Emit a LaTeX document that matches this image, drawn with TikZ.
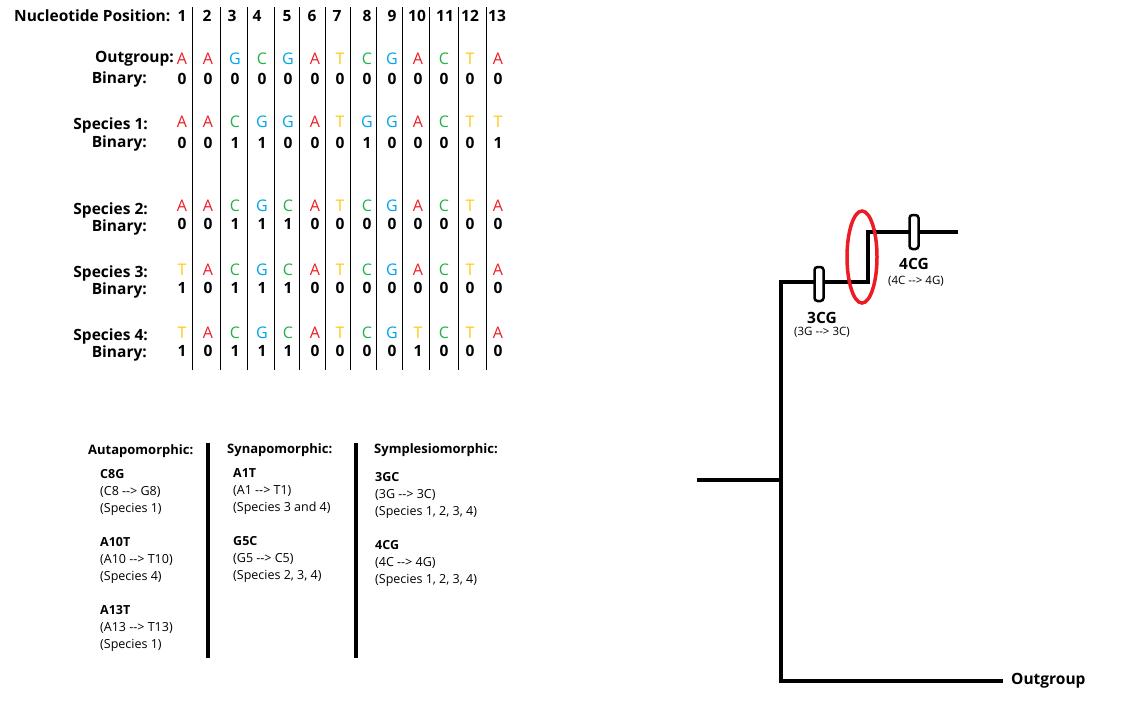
\documentclass[tikz,border=0pt]{standalone}
\usepackage{fontspec}
\setmainfont{Open Sans}
\definecolor{cA}{RGB}{237,28,36}
\definecolor{cG}{RGB}{0,162,232}
\definecolor{cC}{RGB}{34,177,76}
\definecolor{cT}{RGB}{255,201,14}
\newcommand{\arr}{-{}-{}>}
\begin{document}
\begin{tikzpicture}[x=1pt,y=-1pt,
  lab/.style={font=\fontsize{15.5}{15}\selectfont\bfseries,anchor=east,inner sep=0},
  bit/.style={font=\fontsize{15.5}{15}\selectfont\bfseries,inner sep=0},
  nuc/.style={font=\fontsize{16}{16}\selectfont,inner sep=0},
  hd/.style={font=\fontsize{13}{13}\selectfont\bfseries,anchor=west,inner sep=0},
  sm/.style={font=\fontsize{12.5}{17}\selectfont,anchor=north west,align=left,inner sep=0},
  thick4/.style={line width=4pt},
  tickbox/.style={draw,line width=2.5pt,rounded corners=3pt,minimum width=9pt,minimum height=34pt,inner sep=0,fill=white}]
\useasboundingbox (0,0) rectangle (1127,718);
% column separators
\foreach \x [count=\i] in {192,220,247,274,299,325,350,376,402,429,458,486}
  \draw[line width=1pt] (\x,7) -- (\x,370);
\node[lab,anchor=west] (hdr) at (14,16) {Nucleotide Position:};
\foreach \n/\x in {1/182,2/207,3/232,4/257,5/287,6/312,7/337,8/367,9/392,10/417,11/445,12/470,13/497}
  \node[bit] (h\n) at (\x,16) {\n};
\def\cols{182,208,235,262,288,315,340,367,392,418,444,470,498}
% rows
\node[lab] (lo) at (174,59) {Outgroup:};
\node[lab] (lb0) at (147,79) {Binary:};
\node[lab] (l1) at (148,125) {Species 1:};
\node[lab] (lb1) at (147,143) {Binary:};
\node[lab] (l2) at (148,210) {Species 2:};
\node[lab] (lb2) at (147,227) {Binary:};
\node[lab] (l3) at (148,273) {Species 3:};
\node[lab] (lb3) at (147,290) {Binary:};
\node[lab] (l4) at (148,336) {Species 4:};
\node[lab] (lb4) at (147,353) {Binary:};
\foreach \y/\seq/\bits [count=\r] in {
  59/{A,A,G,C,G,A,T,C,G,A,C,T,A}/{0,0,0,0,0,0,0,0,0,0,0,0,0},
  122/{A,A,C,G,G,A,T,G,G,A,C,T,T}/{0,0,1,1,0,0,0,1,0,0,0,0,1},
  206/{A,A,C,G,C,A,T,C,G,A,C,T,A}/{0,0,1,1,1,0,0,0,0,0,0,0,0},
  270/{T,A,C,G,C,A,T,C,G,A,C,T,A}/{1,0,1,1,1,0,0,0,0,0,0,0,0},
  333/{T,A,C,G,C,A,T,C,G,T,C,T,A}/{1,0,1,1,1,0,0,0,0,1,0,0,0}}{
  \foreach \x [count=\i] in \cols {
    \pgfmathsetmacro{\yb}{\y+(\r==1?20:(\r==2?21:18))}
    \foreach \s [count=\j] in \seq {\ifnum\i=\j \node[nuc,text=c\s] (n\r-\i) at (\x,\y) {\s};\fi}
    \foreach \b [count=\j] in \bits {\ifnum\i=\j \node[bit] (b\r-\i) at (\x,\yb) {\b};\fi}
  }
}
% lists
\draw[thick4] (208,443) -- (208,658);
\draw[thick4] (356,443) -- (356,658);
\node[hd] (ha) at (88,451) {Autapomorphic:};
\node[hd] (hs) at (227,450) {Synapomorphic:};
\node[hd] (hp) at (374,450) {Symplesiomorphic:};
\node[sm] (a1) at (100,469) {\textbf{C8G}\\(C8 \arr{} G8)\\(Species 1)};
\node[sm] (a2) at (100,537) {\textbf{A10T}\\(A10 \arr{} T10)\\(Species 4)};
\node[sm] (a3) at (100,605) {\textbf{A13T}\\(A13 \arr{} T13)\\(Species 1)};
\node[sm] (s1) at (233,468) {\textbf{A1T}\\(A1 \arr{} T1)\\(Species 3 and 4)};
\node[sm] (s2) at (233,536) {\textbf{G5C}\\(G5 \arr{} C5)\\(Species 2, 3, 4)};
\node[sm] (p1) at (375,472) {\textbf{3GC}\\(3G \arr{} 3C)\\(Species 1, 2, 3, 4)};
\node[sm] (p2) at (375,540) {\textbf{4CG}\\(4C \arr{} 4G)\\(Species 1, 2, 3, 4)};
% tree
\coordinate (root) at (697,480);
\coordinate (j) at (781,480);
\coordinate (jt) at (781,282);
\coordinate (jb) at (781,681);
\coordinate (ob) at (1003,681);
\coordinate (k) at (868,282);
\coordinate (kt) at (868,232);
\coordinate (tip) at (958,232);
\node[font=\fontsize{15.5}{15}\selectfont\bfseries,anchor=west,inner sep=0] (og) at (1011,681) {Outgroup};
\draw[thick4] (root) -- (j);
\draw[thick4,line join=miter] (tip) -- (kt) -- (k) -- (jt) -- (jb) -- (ob);
\node[tickbox] (m1) at (819,284) {};
\node[tickbox] (m2) at (914,232) {};
\draw[cA,line width=3.5pt] (862,257) ellipse [x radius=15, y radius=46];
\node[font=\fontsize{15.5}{15}\selectfont\bfseries,inner sep=0] (t4) at (914,264) {4CG};
\node[font=\fontsize{11.5}{11}\selectfont,inner sep=0] (t4b) at (916,281) {(4C \arr{} 4G)};
\node[font=\fontsize{15.5}{15}\selectfont\bfseries,inner sep=0] (t3) at (822,318) {3CG};
\node[font=\fontsize{11.5}{11}\selectfont,inner sep=0] (t3b) at (822,332) {(3G \arr{} 3C)};
\end{tikzpicture}
\end{document}
